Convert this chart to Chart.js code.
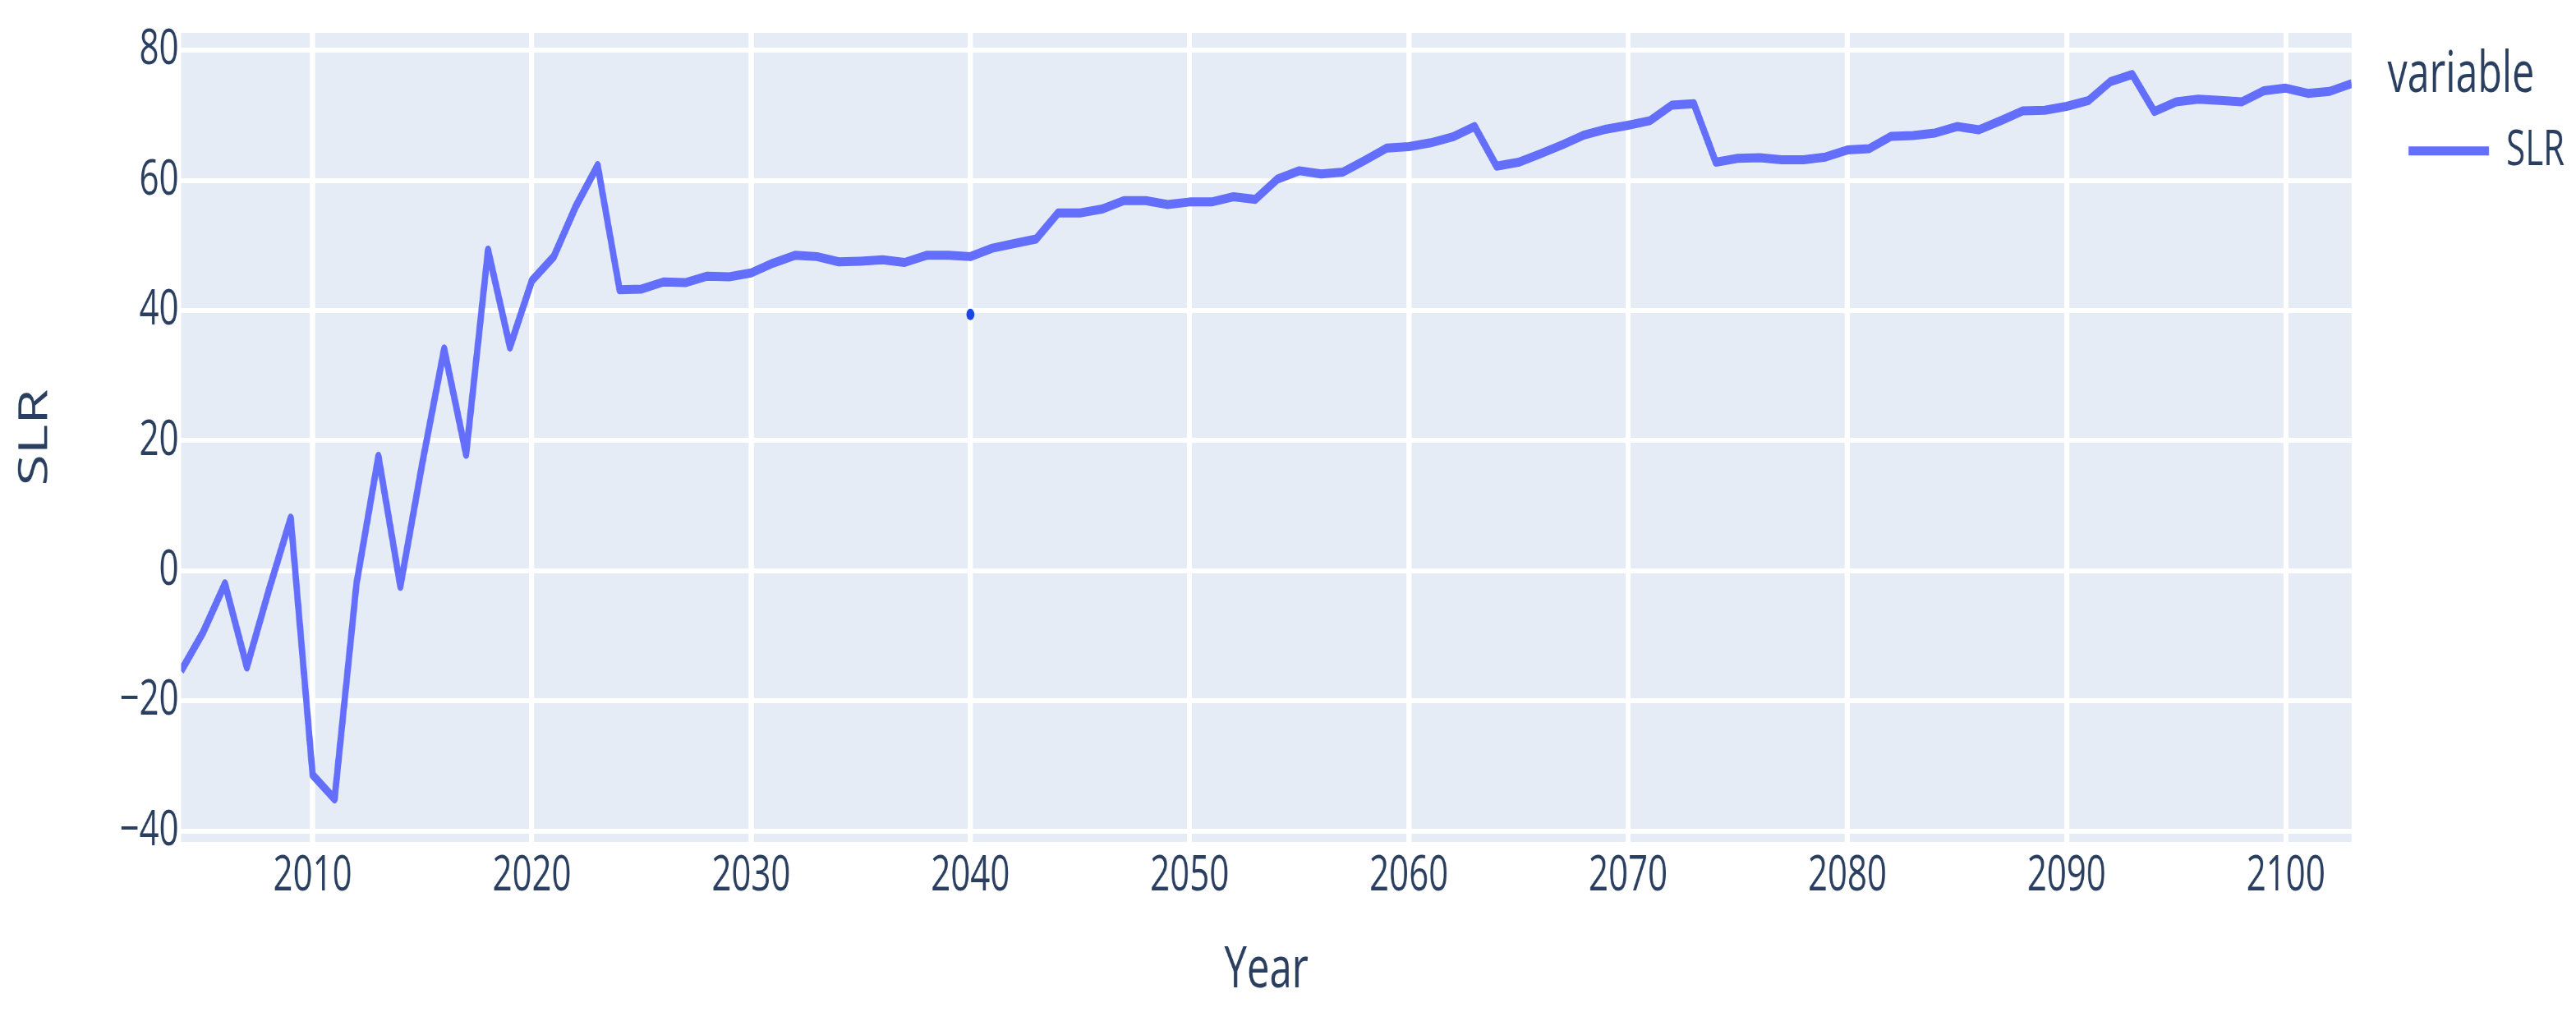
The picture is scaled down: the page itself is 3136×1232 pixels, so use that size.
<!DOCTYPE html>
<html>
<head>
<meta charset="utf-8">
<script src="https://cdn.jsdelivr.net/npm/chart.js@4.4.1/dist/chart.umd.min.js"></script>
<style>
  html, body { margin: 0; padding: 0; background: #fff; overflow: hidden; }
  /* the source picture is squeezed horizontally, so draw wide and squeeze */
  #wrap { width: 4480px; height: 1232px; transform: scaleX(0.7); transform-origin: 0 0; }
</style>
</head>
<body>
<div id="wrap"><canvas id="chart" width="4480" height="1232"></canvas></div>
<script>
// Годы (ось X)
const years = [
  2004, 2005, 2006, 2007, 2008, 2009, 2010, 2011, 2012, 2013,
  2014, 2015, 2016, 2017, 2018, 2019, 2020, 2021, 2022, 2023,
  2024, 2025, 2026, 2027, 2028, 2029, 2030, 2031, 2032, 2033,
  2034, 2035, 2036, 2037, 2038, 2039, 2040, 2041, 2042, 2043,
  2044, 2045, 2046, 2047, 2048, 2049, 2050, 2051, 2052, 2053,
  2054, 2055, 2056, 2057, 2058, 2059, 2060, 2061, 2062, 2063,
  2064, 2065, 2066, 2067, 2068, 2069, 2070, 2071, 2072, 2073,
  2074, 2075, 2076, 2077, 2078, 2079, 2080, 2081, 2082, 2083,
  2084, 2085, 2086, 2087, 2088, 2089, 2090, 2091, 2092, 2093,
  2094, 2095, 2096, 2097, 2098, 2099, 2100, 2101, 2102, 2103
]

// Значения SLR
const slr = [
  -15.4, -9.5, -2.0, -14.8, -3.0, 8.1, -31.4, -35.1, -2.0, 17.6,
  -2.4, 16.5, 34.1, 17.9, 49.3, 34.4, 44.6, 48.3, 56.0, 62.3,
  43.2, 43.3, 44.4, 44.3, 45.3, 45.2, 45.8, 47.3, 48.5, 48.3,
  47.5, 47.6, 47.8, 47.4, 48.5, 48.5, 48.3, 49.6, 50.3, 51.0,
  55.0, 55.0, 55.6, 56.9, 56.9, 56.3, 56.7, 56.7, 57.5, 57.1,
  60.2, 61.5, 61.0, 61.3, 63.1, 65.0, 65.2, 65.8, 66.7, 68.3,
  62.2, 62.8, 64.1, 65.5, 67.0, 67.9, 68.5, 69.2, 71.6, 71.8,
  62.8, 63.4, 63.5, 63.2, 63.2, 63.6, 64.7, 64.9, 66.8, 66.9,
  67.3, 68.3, 67.8, 69.2, 70.7, 70.8, 71.4, 72.3, 75.2, 76.3,
  70.6, 72.1, 72.5, 72.3, 72.1, 73.8, 74.2, 73.4, 73.7, 74.9
]

// Одиночная точка около 2040 года
const dotYear = [2040]
const dotValue = [39.4]

const yTicks = [-40, -20, 0, 20, 40, 60, 80]

const textColor = "#2a3f5f"
const font = "'Open Sans', 'Noto Sans', sans-serif"

// Фон области графика как в plotly
const plotBg = {
  id: "plotBg",
  beforeDraw(chart) {
    const { ctx, chartArea: a } = chart
    ctx.save()
    ctx.fillStyle = "#e5ecf6"
    ctx.fillRect(a.left, a.top, a.right - a.left, a.bottom - a.top)
    ctx.restore()
  }
}

new Chart(document.getElementById("chart"), {
  type: "line",
  data: {
    datasets: [{
      label: "SLR",
      data: years.map((y, i) => ({ x: y, y: slr[i] })),
      borderColor: "#636efa",
      backgroundColor: "#636efa",
      borderWidth: 11,
      borderJoinStyle: "round",
      pointRadius: 0,
      tension: 0,
      fill: false
    }, {
      label: "dot",
      data: dotYear.map((y, i) => ({ x: y, y: dotValue[i] })),
      showLine: false,
      pointRadius: 7,
      pointBorderWidth: 0,
      pointBackgroundColor: "#1a46e6"
    }]
  },
  options: {
    responsive: false,
    animation: false,
    devicePixelRatio: 1,
    layout: { padding: { top: 28, right: 10, left: 0, bottom: 0 } },
    plugins: {
      tooltip: { enabled: false },
      legend: {
        position: "right",
        align: "start",
        title: {
          display: true,
          text: "variable",
          color: textColor,
          position: "center",
          font: { family: font, size: 69 },
          padding: { top: 30, bottom: -86 }
        },
        labels: {
          color: textColor,
          font: { family: font, size: 60 },
          boxWidth: 140,
          boxHeight: 11,
          padding: 99,
          filter: item => item.datasetIndex === 0,
          generateLabels: chart =>
            Chart.defaults.plugins.legend.labels.generateLabels(chart)
              .map(l => ({ ...l, lineWidth: 0 }))
        }
      }
    },
    scales: {
      x: {
        type: "linear",
        min: 2004,
        max: 2103,
        border: { display: false },
        grid: { color: "#ffffff", lineWidth: 9, drawTicks: false },
        ticks: {
          stepSize: 10,
          includeBounds: false,
          padding: 6,
          color: textColor,
          font: { family: font, size: 60 },
          maxRotation: 0,
          callback: v => String(v)
        },
        title: {
          display: true,
          text: "Year",
          color: textColor,
          font: { family: font, size: 70 },
          padding: { top: 31, bottom: 8 }
        }
      },
      y: {
        min: -41.7,
        max: 82.7,
        border: { display: false },
        grid: { color: "#ffffff", lineWidth: 6, drawTicks: false },
        afterBuildTicks: scale => { scale.ticks = yTicks.map(v => ({ value: v })) },
        ticks: {
          padding: 4,
          color: textColor,
          font: { family: font, size: 60 },
          callback: v => String(v).replace("-", "\u2212")
        },
        title: {
          display: true,
          text: "SLR",
          color: textColor,
          font: { family: font, size: 70 },
          padding: { top: 20, bottom: 100 }
        }
      }
    }
  },
  plugins: [plotBg]
})
</script>
</body>
</html>
